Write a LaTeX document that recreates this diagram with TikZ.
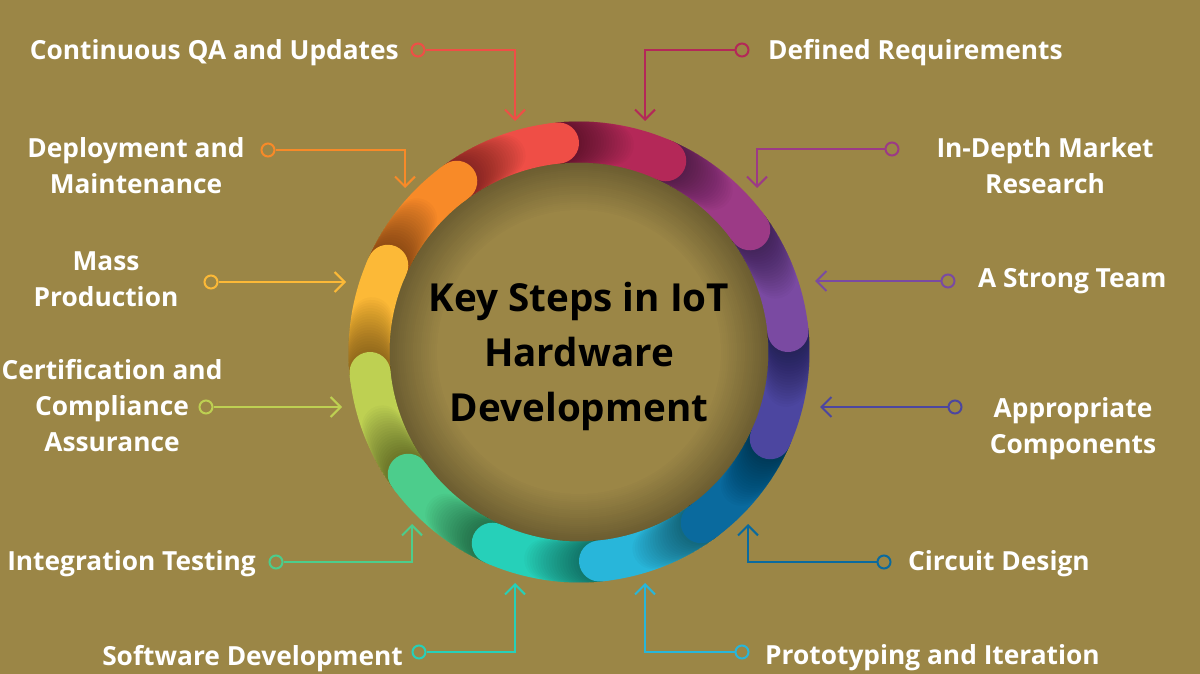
\documentclass[tikz,border=0pt]{standalone}
\usepackage{fontspec}
\setmainfont{Open Sans}
\usetikzlibrary{arrows.meta}
\definecolor{bg}{RGB}{155,134,70}
\definecolor{cRed}{RGB}{239,78,70}
\definecolor{cOrange}{RGB}{248,138,40}
\definecolor{cYellow}{RGB}{252,185,55}
\definecolor{cYGreen}{RGB}{190,208,82}
\definecolor{cGreen}{RGB}{76,205,140}
\definecolor{cTeal}{RGB}{38,208,185}
\definecolor{cLBlue}{RGB}{40,182,218}
\definecolor{cBlue}{RGB}{10,106,158}
\definecolor{cIndigo}{RGB}{76,70,160}
\definecolor{cPurple}{RGB}{122,74,162}
\definecolor{cViolet}{RGB}{156,58,134}
\definecolor{cMagenta}{RGB}{180,40,88}
\tikzset{
  lbl/.style={text=white, font=\bfseries\fontsize{26.3}{36}\selectfont, align=center, inner sep=0pt},
  ttl/.style={text=black, font=\bfseries\fontsize{38.6}{55}\selectfont, align=center, inner sep=0pt},
  dot/.style={circle, draw=#1, line width=2pt, minimum size=13pt, inner sep=0pt},
  conn/.style={draw=#1, line width=2pt, -{Straight Barb[length=10pt,width=20pt]}},
  seg/.style={line width=41pt},
}
\begin{document}
\begin{tikzpicture}[x=1pt,y=-1pt]
\fill[bg] (0,0) rectangle (1200,674);
\useasboundingbox (0,0) rectangle (1200,674);

% ring
\begin{scope}[shift={(579,352)}, y=1pt]
  \foreach \k in {0,...,24}{
    \pgfmathtruncatemacro\p{70+1.25*\k}
    \fill[bg!\p!black] (0,0) circle[radius={190-2*\k}];
  }
  \fill[bg] (0,0) circle[radius=140];
  \foreach \a/\c in {90/cRed,120/cOrange,150/cYellow,180/cYGreen,210/cGreen,240/cTeal,270/cLBlue,300/cBlue,330/cIndigo,0/cPurple,30/cViolet,60/cMagenta}{
    \draw[seg, draw=\c] ({\a+5.6}:210) arc[start angle=\a+5.6, end angle=\a+35.6, radius=210];
  }
  \foreach \a in {90,120,150,180,210,240,270,300,330,0,30,60}{
    \foreach \d in {0.75,1.5,...,15}{
      \draw[seg, black, opacity=0.025, line cap=round] ({\a+5.6}:210) arc[start angle=\a+5.6, end angle=\a+5.6-\d, radius=210];
    }
  }
  \foreach \a/\c in {90/cRed,120/cOrange,150/cYellow,180/cYGreen,210/cGreen,240/cTeal,270/cLBlue,300/cBlue,330/cIndigo,0/cPurple,30/cViolet,60/cMagenta}{
    \draw[seg, draw=\c, line cap=round] ({\a+7}:210) arc[start angle=\a+7, end angle=\a+5.6, radius=210];
  }
\end{scope}

\node[ttl] (title) at (579,356) {Key Steps in IoT\\Hardware\\Development};

% 1
\node[lbl, anchor=east] (L1) at (399,53) {Continuous QA and Updates};
\node[dot=cRed] (D1) at (418,50) {};
\coordinate (T1) at (515,121);
\draw[conn=cRed] (D1.east) -| (T1);
% 2
\node[lbl] (L2) at (136,166) {Deployment and\\Maintenance};
\node[dot=cOrange] (D2) at (268,150) {};
\coordinate (T2) at (405,188);
\draw[conn=cOrange] (D2.east) -| (T2);
% 3
\node[lbl] (L3) at (106,279) {Mass\\Production};
\node[dot=cYellow] (D3) at (211,282) {};
\coordinate (T3) at (346,282);
\draw[conn=cYellow] (D3.east) -- (T3);
% 4
\node[lbl] (L4) at (112,406) {Certification and\\Compliance\\Assurance};
\node[dot=cYGreen] (D4) at (206,407) {};
\coordinate (T4) at (342,407);
\draw[conn=cYGreen] (D4.east) -- (T4);
% 5
\node[lbl, anchor=east] (L5) at (256,564) {Integration Testing};
\node[dot=cGreen] (D5) at (276,562) {};
\coordinate (T5) at (412,524);
\draw[conn=cGreen] (D5.east) -| (T5);
% 6
\node[lbl, anchor=east] (L6) at (403,659) {Software Development};
\node[dot=cTeal] (D6) at (419,652) {};
\coordinate (T6) at (515,583);
\draw[conn=cTeal] (D6.east) -| (T6);
% 7
\node[lbl, anchor=west] (L7) at (765,658) {Prototyping and Iteration};
\node[dot=cLBlue] (D7) at (742,652) {};
\coordinate (T7) at (645,583);
\draw[conn=cLBlue] (D7.west) -| (T7);
% 8
\node[lbl, anchor=west] (L8) at (908,564) {Circuit Design};
\node[dot=cBlue] (D8) at (884,562) {};
\coordinate (T8) at (748,524);
\draw[conn=cBlue] (D8.west) -| (T8);
% 9
\node[lbl] (L9) at (1073,429) {Appropriate\\Components};
\node[dot=cIndigo] (D9) at (955,407) {};
\coordinate (T9) at (820,407);
\draw[conn=cIndigo] (D9.west) -- (T9);
% 10
\node[lbl, anchor=west] (L10) at (978,281) {A Strong Team};
\node[dot=cPurple] (D10) at (948,281) {};
\coordinate (T10) at (815,281);
\draw[conn=cPurple] (D10.west) -- (T10);
% 11
\node[lbl] (L11) at (1045,166) {In-Depth Market\\Research};
\node[dot=cViolet] (D11) at (892,149) {};
\coordinate (T11) at (757,188);
\draw[conn=cViolet] (D11.west) -| (T11);
% 12
\node[lbl, anchor=west] (L12) at (768,53) {Defined Requirements};
\node[dot=cMagenta] (D12) at (742,50) {};
\coordinate (T12) at (645,121);
\draw[conn=cMagenta] (D12.west) -| (T12);
\end{tikzpicture}
\end{document}
